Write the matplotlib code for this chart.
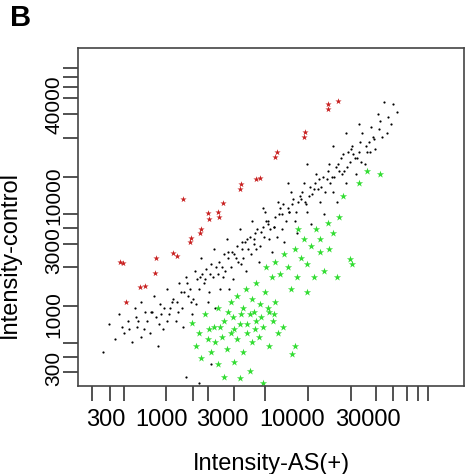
import matplotlib
matplotlib.use("Agg")
import matplotlib.pyplot as plt

plt.rcParams["font.family"] = ["Liberation Sans", "DejaVu Sans"]

# ---- data (log10 intensity: AS(+), control) ----
black_x = [2.45, 2.50, 2.55, 2.58, 2.62, 2.65, 2.68, 2.70, 2.72, 2.75, 2.78, 2.80, 2.82, 2.85, 2.87, 2.90,
           2.92, 2.95, 2.97, 3.00, 3.02, 3.05, 3.07, 3.10, 3.12, 3.15, 3.17, 3.20, 3.22, 3.25, 3.27, 3.30,
           3.32, 3.35, 3.37, 3.40, 3.42, 3.45, 3.47, 3.50, 3.52, 3.55, 3.57, 3.60, 3.62, 3.65, 3.67, 3.70,
           3.72, 3.75, 3.77, 3.80, 3.82, 3.85, 3.87, 3.90, 3.92, 3.95, 3.97, 4.00, 4.02, 4.05, 4.08, 4.10,
           4.12, 4.15, 4.18, 4.20, 4.22, 4.25, 4.28, 4.30, 4.33, 4.35, 4.38, 4.40, 4.43, 4.45, 4.48, 4.50,
           4.53, 4.55, 4.58, 4.60, 4.63, 4.65, 4.70, 4.75,
           3.10, 3.15, 3.20, 3.22, 3.27, 3.30, 3.35, 3.12, 3.40,
           2.60, 2.75, 2.88, 2.95, 3.03, 3.08, 3.13, 3.18, 3.23, 3.28, 3.33, 3.36, 3.41, 3.44, 3.48, 3.53,
           3.56, 3.61, 3.64, 3.68, 3.73, 3.76, 3.81, 3.84, 3.88, 3.93, 3.96, 4.01, 4.06, 4.11, 4.16, 4.21,
           4.26, 4.31, 4.36, 4.41, 4.46, 4.51, 4.56, 4.61, 4.68, 4.72, 4.25, 4.35, 4.45, 4.05, 3.90, 3.70,
           2.66, 2.71, 2.77, 2.83, 2.89, 2.93, 2.99, 3.04, 3.09, 3.14, 3.19, 3.24, 3.29, 3.34, 3.39, 3.43,
           3.46, 3.51, 3.54, 3.59, 3.63, 3.66, 3.71, 3.74, 3.79, 3.83, 3.86, 3.91, 3.94, 3.99, 4.03, 4.07,
           4.13, 4.17, 4.23, 4.27, 4.32, 4.37, 4.42, 4.47, 4.52, 4.57, 4.62, 4.67,
           2.73, 2.84, 2.91, 2.98, 3.06, 3.11, 3.16, 3.21, 3.26, 3.31, 3.38, 3.43, 3.49, 3.54, 3.58, 3.63,
           3.69, 3.74, 3.79, 3.85, 3.91, 3.98, 4.04, 4.09, 4.14, 4.19, 4.24, 4.29, 4.34, 4.39, 4.44, 4.54]
black_y = [2.80, 3.02, 2.90, 3.10, 2.95, 3.05, 2.88, 3.15, 3.00, 2.92, 3.12, 3.05, 2.95, 3.25, 3.08, 3.18,
           2.98, 3.30, 3.10, 3.22, 3.05, 3.35, 3.15, 3.40, 3.25, 3.10, 3.45, 3.30, 3.55, 3.38, 3.20, 3.50,
           3.62, 3.42, 3.30, 3.58, 3.70, 3.48, 3.38, 3.65, 3.78, 3.55, 3.45, 3.72, 3.85, 3.62, 3.52, 3.80,
           3.92, 3.70, 3.60, 3.88, 4.00, 3.78, 3.68, 3.95, 4.08, 3.85, 3.75, 4.02, 4.15, 3.92, 3.82, 4.10,
           4.22, 4.00, 3.90, 4.18, 4.30, 4.08, 4.00, 4.25, 4.38, 4.15, 4.32, 4.45, 4.22, 4.40, 4.55, 4.30,
           4.48, 4.60, 4.42, 4.70, 4.52, 4.80, 4.62, 4.72,
           2.60, 2.45, 2.55, 2.35, 2.50, 2.70, 2.40, 2.30, 2.60,
           3.00, 3.20, 2.85, 3.05, 3.20, 3.00, 3.30, 3.18, 3.42, 3.28, 3.15, 3.52, 3.45, 3.30, 3.58, 3.50,
           3.68, 3.58, 3.75, 3.65, 3.85, 3.78, 3.72, 3.95, 3.85, 3.98, 3.92, 4.08, 4.05, 4.15, 4.12, 4.25,
           4.20, 4.35, 4.28, 4.38, 4.48, 4.45, 4.52, 4.58, 4.68, 4.78, 4.45, 4.55, 4.62, 4.30, 4.15, 3.95,
           2.98, 3.08, 2.98, 3.12, 3.02, 3.15, 3.20, 3.12, 3.28, 3.20, 3.38, 3.35, 3.42, 3.48, 3.40, 3.55,
           3.60, 3.52, 3.68, 3.62, 3.70, 3.78, 3.72, 3.85, 3.80, 3.90, 3.98, 3.92, 4.02, 4.05, 4.00, 4.12,
           4.10, 4.20, 4.15, 4.28, 4.22, 4.40, 4.35, 4.32, 4.40, 4.50, 4.65, 4.55,
           3.05, 3.12, 3.10, 3.15, 3.28, 3.35, 3.22, 3.40, 3.46, 3.40, 3.48, 3.60, 3.55, 3.62, 3.70, 3.66,
           3.76, 3.82, 3.80, 3.90, 3.92, 4.00, 3.98, 4.06, 4.18, 4.08, 4.20, 4.30, 4.25, 4.42, 4.35, 4.40]

green_x = [3.15, 3.18, 3.20, 3.22, 3.25, 3.27, 3.30, 3.32, 3.35, 3.35, 3.38, 3.40, 3.40, 3.42, 3.45, 3.45,
           3.47, 3.48, 3.50, 3.50, 3.52, 3.52, 3.55, 3.55, 3.57, 3.58, 3.60, 3.60, 3.62, 3.62, 3.65, 3.65,
           3.67, 3.68, 3.70, 3.70, 3.72, 3.73, 3.75, 3.75, 3.77, 3.78, 3.80, 3.80, 3.82, 3.84, 3.86, 3.87,
           3.90, 3.92, 3.95, 3.97, 4.00, 4.02, 4.05, 4.05, 4.08, 4.10, 4.12, 4.15, 4.18, 4.21, 4.22, 4.25,
           4.28, 4.30, 4.33, 4.38, 4.40, 4.45, 4.52, 4.62, 3.95, 3.93, 4.15, 3.98,
           3.28, 3.37, 3.43, 3.53, 3.58, 3.63, 3.69, 3.74, 3.79, 3.33, 3.48, 3.64]
green_y = [3.03, 2.85, 2.95, 2.75, 3.10, 2.90, 2.80, 3.00, 2.70, 3.15, 2.92, 3.05, 2.60, 2.82, 3.20, 2.95,
           3.08, 2.72, 3.25, 2.90, 2.59, 3.02, 3.15, 2.80, 3.30, 2.95, 3.10, 2.65, 3.22, 2.88, 3.05, 3.35,
           2.92, 3.18, 3.00, 2.55, 3.28, 3.48, 3.12, 2.85, 3.40, 3.05, 3.52, 3.20, 2.95, 3.42, 3.00, 3.58,
           3.48, 3.30, 3.62, 3.40, 3.55, 3.70, 3.50, 3.28, 3.65, 3.40, 3.78, 3.60, 3.45, 3.83, 3.62, 3.75,
           3.40, 3.88, 4.05, 3.54, 3.50, 4.15, 4.25, 4.22, 2.85, 2.78, 3.70, 3.78,
           2.98, 3.00, 3.12, 3.10, 3.02, 3.12, 3.08, 3.15, 3.10, 2.88, 2.98, 2.98]

red_x = [2.59, 2.61, 2.63, 2.74, 2.78, 2.86, 2.87, 3.00, 3.03, 3.08, 3.13, 3.14, 3.21, 3.22, 3.27, 3.28,
         3.35, 3.36, 3.39, 3.52, 3.53, 3.65, 3.68, 3.80, 3.81, 4.02, 4.03, 4.21, 4.21, 4.29]
red_y = [3.52, 3.51, 3.20, 3.32, 3.33, 3.43, 3.55, 3.59, 3.57, 4.02, 3.68, 3.71, 3.75, 3.78, 3.91, 3.86,
         3.92, 3.88, 3.99, 4.10, 4.14, 4.18, 4.19, 4.36, 4.40, 4.52, 4.56, 4.78, 4.74, 4.81]

x_ticks = [2.368, 2.508, 2.618, 2.946, 3.157, 3.274, 3.477, 3.719, 4.055, 4.391, 4.586, 4.719, 4.829, 4.914, 4.993]
y_ticks = [5.07, 5.00, 4.92, 4.83, 4.70, 4.51, 4.20, 3.90, 3.79, 3.66, 3.48, 3.17, 2.87, 2.76, 2.64]
x_label_pos = [2.477, 2.914, 3.383, 3.93, 4.52]
x_label_txt = ["300", "1000", "3000", "10000", "30000"]
y_label_pos = [2.67, 3.10, 3.61, 4.05, 4.78]
y_label_txt = ["300", "1000", "3000", "10000", "40000"]

fig = plt.figure(figsize=(4.74, 4.74), dpi=100)
ax = fig.add_axes([78 / 474, 1 - 386 / 474, (464 - 78) / 474, (386 - 48) / 474])

ax.scatter(black_x, black_y, s=2.5, c="black", linewidths=0)
ax.scatter(green_x, green_y, s=30, c="#33dd33", marker="*", linewidths=0)
ax.scatter(red_x, red_y, s=22, c="#c82020", marker="*", linewidths=0)

ax.set_xlim(2.258, 5.274)
ax.set_ylim(2.528, 5.23)
for s in ax.spines.values():
    s.set_color("#444444")
    s.set_linewidth(1.2)

ax.set_xticks(x_ticks)
ax.set_xticklabels([])
ax.set_yticks(y_ticks)
ax.set_yticklabels([])
ax.tick_params(axis="both", direction="out", length=11, width=1.2, color="#333333")

for p, t in zip(x_label_pos, x_label_txt):
    ax.text(p, -0.10, t, transform=ax.get_xaxis_transform(), ha="center", va="center", fontsize=17)
for p, t in zip(y_label_pos, y_label_txt):
    ax.text(-0.062, p, t, transform=ax.get_yaxis_transform(), ha="center", va="center",
            rotation=90, fontsize=15)

ax.set_xlabel("Intensity-AS(+)", fontsize=17)
ax.xaxis.set_label_coords(0.5, -0.198)
ax.set_ylabel("Intensity-control", fontsize=17)
ax.yaxis.set_label_coords(-0.148, 0.39)
fig.text(10 / 474, 1 - 18 / 474, "B", fontsize=21, fontweight="bold", va="center")

fig.savefig("out.png", dpi=100)
